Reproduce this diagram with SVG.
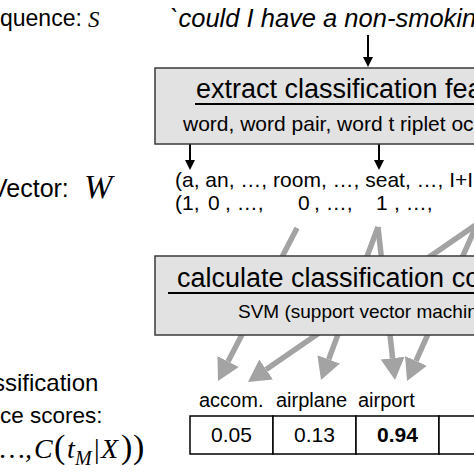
<svg xmlns="http://www.w3.org/2000/svg" width="474" height="474" viewBox="0 0 474 474">
<style>
.sans{font-family:"Liberation Sans",Arial,sans-serif;fill:#000}
.serif{font-family:"Liberation Serif","Times New Roman",serif;font-style:italic;fill:#000}
.box{fill:#e2e2e2;stroke:#3a3a3a;stroke-width:1.5}
.ul{stroke:#000;stroke-width:2}
.gray{stroke:#a3a3a3;stroke-width:5.5;fill:none;marker-end:url(#ga)}
.blk{stroke:#000;stroke-width:2;fill:none;marker-end:url(#ba)}
.cell{fill:#fff;stroke:#000;stroke-width:1.5}
</style>
<defs>
<marker id="ga" markerUnits="userSpaceOnUse" viewBox="0 -13 23 26" markerWidth="23" markerHeight="26" refX="0" refY="0" orient="auto"><path d="M0,-12 L22,0 L0,12 z" fill="#a3a3a3"/></marker>
<marker id="ba" markerUnits="userSpaceOnUse" viewBox="0 -6 11 12" markerWidth="11" markerHeight="12" refX="0" refY="0" orient="auto"><path d="M0,-5 L10,0 L0,5 z" fill="#000"/></marker>
</defs>
<rect x="0" y="0" width="474" height="474" fill="#fff"/>

<g id="labels-left">
<text class="sans" x="0" y="26" font-size="23">quence:</text>
<text class="serif" x="88" y="27" font-size="23">S</text>
<text class="sans" x="-9" y="197" font-size="25">Vector:</text>
<text class="serif" x="84" y="198" font-size="34">W</text>
<text class="sans" x="-7" y="391" font-size="24">ssification</text>
<text class="sans" x="0" y="423" font-size="22.5">ce scores:</text>
<text class="serif" font-size="28" y="458"><tspan x="0">…,</tspan><tspan x="34">C</tspan><tspan x="54" font-style="normal" font-size="34">(</tspan><tspan x="67">t</tspan><tspan x="75" y="465" font-size="20">M</tspan><tspan x="94" y="458" font-style="normal">|</tspan><tspan x="101">X</tspan><tspan x="121" font-style="normal" font-size="34">)</tspan><tspan x="133" font-style="normal" font-size="34">)</tspan></text>
</g>

<g id="input">
<text class="sans" x="170" y="27" font-size="25.5" font-style="italic">`could I have a non-smoking</text>
</g>

<g id="connectors">
<path class="blk" d="M368,35 V57"/>
<path class="blk" d="M190,144 V160"/>
<path class="blk" d="M379,144 V160"/>
<path class="gray" d="M297,228 L228.1,361.5"/>
<path class="gray" d="M480,222 L266.1,369.5"/>
<path class="gray" d="M378,227 L328.7,359.4"/>
<path class="gray" d="M378,227 L392.6,358.1"/>
<path class="gray" d="M478,222 L416,360.9"/>
</g>

<g id="extract">
<rect class="box" x="155" y="68" width="330" height="76"/>
<text class="sans" x="196" y="98" font-size="27">extract classification features</text>
<line class="ul" x1="195" y1="104" x2="474" y2="104"/>
<text class="sans" x="183" y="131" font-size="21">word, word pair, word t riplet occurrence</text>
</g>

<g id="vector">
<text class="sans" x="175" y="187" font-size="21">(a, an, …, room, …, seat, …, I+I</text>
<text class="sans" y="210" font-size="21"><tspan x="175">(1,</tspan><tspan x="208">0</tspan><tspan x="225">, …,</tspan><tspan x="298">0</tspan><tspan x="314">, …,</tspan><tspan x="376">1</tspan><tspan x="394">, …,</tspan></text>
</g>

<g id="calculate">
<rect class="box" x="155" y="256" width="330" height="79"/>
<text class="sans" x="177" y="287" font-size="27">calculate classification confidence</text>
<line class="ul" x1="168" y1="293" x2="474" y2="293"/>
<text class="sans" x="238" y="318" font-size="19">SVM (support vector machine)</text>
</g>

<g id="topics">
<text class="sans" x="199" y="407" font-size="20">accom.</text>
<text class="sans" x="276" y="407" font-size="20">airplane</text>
<text class="sans" x="358" y="407" font-size="20">airport</text>
</g>

<g id="scores">
<rect class="cell" x="190" y="416" width="83" height="38"/>
<rect class="cell" x="273" y="416" width="83" height="38"/>
<rect class="cell" x="356" y="416" width="83" height="38"/>
<rect class="cell" x="439" y="416" width="83" height="38"/>
<text class="sans" x="231.5" y="442" font-size="21" text-anchor="middle">0.05</text>
<text class="sans" x="314.5" y="442" font-size="21" text-anchor="middle">0.13</text>
<text class="sans" x="397.5" y="442" font-size="21" text-anchor="middle" font-weight="bold">0.94</text>
</g>
</svg>
